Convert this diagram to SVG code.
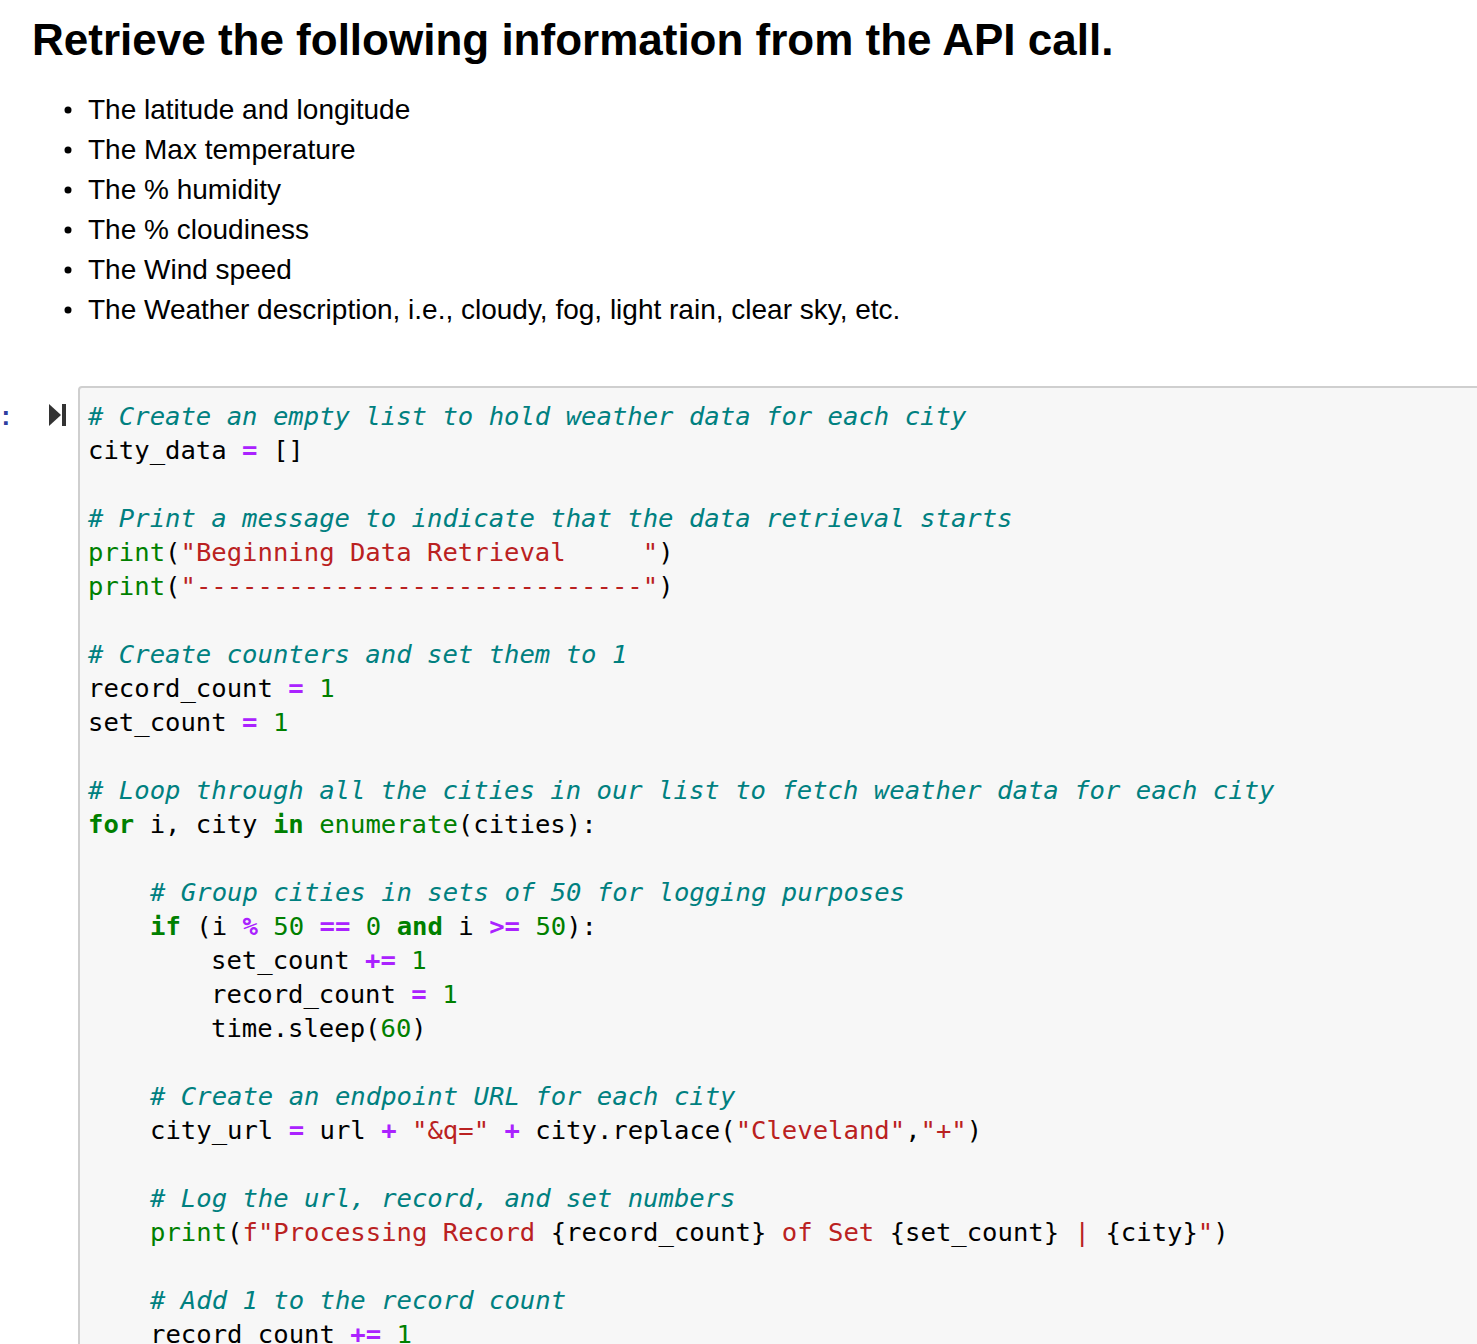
<svg xmlns="http://www.w3.org/2000/svg" width="1477" height="1344" viewBox="0 0 1477 1344" xml:space="preserve">
<style>
.h{font-family:"Liberation Sans",Arial,sans-serif;font-weight:bold;font-size:44px;fill:#000}
.b{font-family:"Liberation Sans",Arial,sans-serif;font-size:28px;fill:#000}
.code{font-family:"DejaVu Sans Mono","Liberation Mono",monospace;font-size:25.6px;fill:#000;white-space:pre}
.c{fill:#008080;font-style:italic}
.k{fill:#008000;font-weight:bold}
.o{fill:#AA22FF;font-weight:bold}
.s{fill:#BA2121}
.n{fill:#008000}
.f{fill:#008000}
</style>
<rect width="1477" height="1344" fill="#fff"/>
<g id="header"><text class="h" x="32" y="55">Retrieve the following information from the API call.</text></g>
<g id="bullets" class="b">
<circle cx="68" cy="110" r="3.5"/><text x="88" y="119">The latitude and longitude</text>
<circle cx="68" cy="150" r="3.5"/><text x="88" y="159">The Max temperature</text>
<circle cx="68" cy="190" r="3.5"/><text x="88" y="199">The % humidity</text>
<circle cx="68" cy="230" r="3.5"/><text x="88" y="239">The % cloudiness</text>
<circle cx="68" cy="270" r="3.5"/><text x="88" y="279">The Wind speed</text>
<circle cx="68" cy="310" r="3.5"/><text x="88" y="319">The Weather description, i.e., cloudy, fog, light rain, clear sky, etc.</text>
</g>
<g id="cell">
<text x="-2" y="425" font-family="Liberation Mono,monospace" font-size="26" fill="#303F9F" font-weight="bold">:</text>
<polygon points="49,404 61,415 49,426" fill="#333"/><rect x="62" y="404" width="4" height="22" fill="#333"/>
<rect x="79" y="387" width="1420" height="980" rx="3" fill="#f7f7f7" stroke="#cfcfcf" stroke-width="2"/>
<g class="code">
<text x="88" y="425"><tspan class="c"># Create an empty list to hold weather data for each city</tspan></text>
<text x="88" y="459">city_data <tspan class="o">=</tspan> []</text>
<text x="88" y="527"><tspan class="c"># Print a message to indicate that the data retrieval starts</tspan></text>
<text x="88" y="561"><tspan class="f">print</tspan>(<tspan class="s">"Beginning Data Retrieval&#160;&#160;&#160;&#160;&#160;"</tspan>)</text>
<text x="88" y="595"><tspan class="f">print</tspan>(<tspan class="s">"-----------------------------"</tspan>)</text>
<text x="88" y="663"><tspan class="c"># Create counters and set them to 1</tspan></text>
<text x="88" y="697">record_count <tspan class="o">=</tspan> <tspan class="n">1</tspan></text>
<text x="88" y="731">set_count <tspan class="o">=</tspan> <tspan class="n">1</tspan></text>
<text x="88" y="799"><tspan class="c"># Loop through all the cities in our list to fetch weather data for each city</tspan></text>
<text x="88" y="833"><tspan class="k">for</tspan> i, city <tspan class="k">in</tspan> <tspan class="f">enumerate</tspan>(cities):</text>
<text x="150" y="901"><tspan class="c"># Group cities in sets of 50 for logging purposes</tspan></text>
<text x="150" y="935"><tspan class="k">if</tspan> (i <tspan class="o">%</tspan> <tspan class="n">50</tspan> <tspan class="o">==</tspan> <tspan class="n">0</tspan> <tspan class="k">and</tspan> i <tspan class="o">&gt;=</tspan> <tspan class="n">50</tspan>):</text>
<text x="211" y="969">set_count <tspan class="o">+=</tspan> <tspan class="n">1</tspan></text>
<text x="211" y="1003">record_count <tspan class="o">=</tspan> <tspan class="n">1</tspan></text>
<text x="211" y="1037">time.sleep(<tspan class="n">60</tspan>)</text>
<text x="150" y="1105"><tspan class="c"># Create an endpoint URL for each city</tspan></text>
<text x="150" y="1139">city_url <tspan class="o">=</tspan> url <tspan class="o">+</tspan> <tspan class="s">"&amp;q="</tspan> <tspan class="o">+</tspan> city.replace(<tspan class="s">"Cleveland"</tspan>,<tspan class="s">"+"</tspan>)</text>
<text x="150" y="1207"><tspan class="c"># Log the url, record, and set numbers</tspan></text>
<text x="150" y="1241"><tspan class="f">print</tspan>(<tspan class="s">f"Processing Record </tspan>{record_count}<tspan class="s"> of Set </tspan>{set_count}<tspan class="s"> | </tspan>{city}<tspan class="s">"</tspan>)</text>
<text x="150" y="1309"><tspan class="c"># Add 1 to the record count</tspan></text>
<text x="150" y="1343">record_count <tspan class="o">+=</tspan> <tspan class="n">1</tspan></text>
</g>
</g>
</svg>
